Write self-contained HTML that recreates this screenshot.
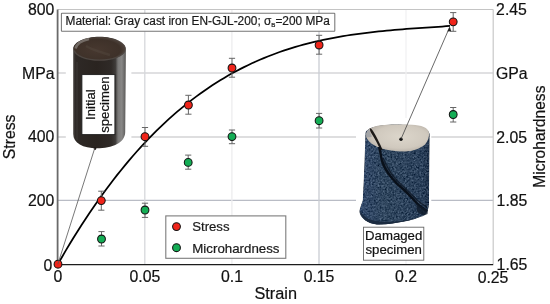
<!DOCTYPE html>
<html><head><meta charset="utf-8"><style>
html,body{margin:0;padding:0;background:#fff;}
svg{display:block;}
text{stroke:#111;stroke-width:0.2px;paint-order:stroke;}
</style></head><body>
<svg width="550" height="304" viewBox="0 0 550 304">
<rect x="0" y="0" width="550" height="304" fill="#fff"/>
<line x1="57.8" x2="493.2" y1="200.4" y2="200.4" stroke="#b9bcc5" stroke-width="1.2"/>
<line x1="57.8" x2="493.2" y1="137.0" y2="137.0" stroke="#d3d3d5" stroke-width="1.5"/>
<line x1="57.8" x2="493.2" y1="73.0" y2="73.0" stroke="#d6d6d8" stroke-width="1.3"/>
<line x1="144.8" x2="144.8" y1="9.5" y2="264.3" stroke="#d6d7db" stroke-width="1.3"/>
<line x1="231.9" x2="231.9" y1="9.5" y2="264.3" stroke="#ececee" stroke-width="1.3"/>
<line x1="319.0" x2="319.0" y1="9.5" y2="264.3" stroke="#c9ccd3" stroke-width="1.3"/>
<line x1="406.0" x2="406.0" y1="9.5" y2="264.3" stroke="#f0f0f2" stroke-width="1.2"/>
<rect x="65.8" y="32" width="65.6" height="118" fill="#fff"/>
<rect x="356" y="118" width="75.3" height="108" fill="#fff"/>
<line x1="57.8" x2="493.2" y1="9.5" y2="9.5" stroke="#c4c4c4" stroke-width="1.2"/>
<line x1="493.2" x2="493.2" y1="9.5" y2="264.3" stroke="#c8c8c8" stroke-width="1.2"/>
<line x1="57.599999999999994" x2="57.599999999999994" y1="9.5" y2="264.3" stroke="#6a6a6a" stroke-width="1.8"/>
<line x1="57.8" x2="493.2" y1="264.6" y2="264.6" stroke="#1c1c1c" stroke-width="1.3"/>
<rect x="61.4" y="13.2" width="273.4" height="18.1" rx="0.6" fill="#fff" stroke="#757575" stroke-width="1.05"/>
<text x="65.6" y="24.8" font-size="11.87" fill="#1a1a1a" font-family='"Liberation Sans", Arial, sans-serif'>Material: Gray cast iron EN-GJL-200; σ<tspan font-size="6.2" dy="1.7">B</tspan><tspan dy="-1.7">=200 MPa</tspan></text>
<rect x="165.8" y="215.9" width="120" height="42.4" fill="#fff" stroke="#7c7c7c" stroke-width="1.1"/>
<circle cx="176.5" cy="226.6" r="3.9" fill="#f0241a" stroke="#141414" stroke-width="1.05"/>
<circle cx="176.5" cy="247.7" r="3.9" fill="#14ad55" stroke="#141414" stroke-width="1.05"/>
<text x="192.2" y="231.2" font-size="13.2" fill="#1a1a1a" font-family='"Liberation Sans", Arial, sans-serif'>Stress</text>
<text x="192.3" y="252.9" font-size="13.3" fill="#1a1a1a" font-family='"Liberation Sans", Arial, sans-serif'>Microhardness</text>
<path d="M57.80,264.33 L61.76,257.44 L65.72,250.68 L69.68,244.06 L73.65,237.58 L77.61,231.24 L81.57,225.03 L85.53,218.95 L89.49,213.00 L93.45,207.18 L97.42,201.49 L101.38,195.92 L105.34,190.48 L109.30,185.16 L113.26,179.97 L117.22,174.89 L121.19,169.94 L125.15,165.10 L129.11,160.37 L133.07,155.76 L137.03,151.27 L140.99,146.88 L144.96,142.61 L148.92,138.44 L152.88,134.38 L156.84,130.43 L160.80,126.58 L164.76,122.83 L168.73,119.18 L172.69,115.64 L176.65,112.19 L180.61,108.84 L184.57,105.58 L188.53,102.41 L192.49,99.34 L196.46,96.36 L200.42,93.47 L204.38,90.67 L208.34,87.95 L212.30,85.31 L216.26,82.76 L220.23,80.29 L224.19,77.90 L228.15,75.59 L232.11,73.36 L236.07,71.20 L240.03,69.12 L244.00,67.11 L247.96,65.17 L251.92,63.30 L255.88,61.50 L259.84,59.77 L263.80,58.10 L267.77,56.49 L271.73,54.95 L275.69,53.47 L279.65,52.05 L283.61,50.68 L287.57,49.38 L291.54,48.12 L295.50,46.92 L299.46,45.78 L303.42,44.68 L307.38,43.63 L311.34,42.63 L315.31,41.67 L319.27,40.76 L323.23,39.90 L327.19,39.07 L331.15,38.28 L335.11,37.54 L339.07,36.83 L343.04,36.15 L347.00,35.51 L350.96,34.90 L354.92,34.33 L358.88,33.78 L362.84,33.26 L366.81,32.77 L370.77,32.30 L374.73,31.86 L378.69,31.44 L382.65,31.04 L386.61,30.66 L390.58,30.29 L394.54,29.95 L398.50,29.61 L402.46,29.29 L406.42,28.99 L410.38,28.69 L414.35,28.40 L418.31,28.12 L422.27,27.85 L426.23,27.58 L430.19,27.31 L434.15,27.04 L438.12,26.78 L442.08,26.51 L446.04,26.24 L450.00,25.96" fill="none" stroke="#000" stroke-width="1.75"/>
<path d="M101.5,231.6V246.0M98.4,231.6H104.6M98.4,246.0H104.6" stroke="#666" stroke-width="1" fill="none"/>
<path d="M145.0,203.2V217.4M141.9,203.2H148.1M141.9,217.4H148.1" stroke="#666" stroke-width="1" fill="none"/>
<path d="M188.2,155.1V169.2M185.1,155.1H191.3M185.1,169.2H191.3" stroke="#666" stroke-width="1" fill="none"/>
<path d="M232.0,130.0V143.7M228.9,130.0H235.1M228.9,143.7H235.1" stroke="#666" stroke-width="1" fill="none"/>
<path d="M319.1,113.4V128.0M316.0,113.4H322.2M316.0,128.0H322.2" stroke="#666" stroke-width="1" fill="none"/>
<path d="M453.2,107.5V122.0M450.1,107.5H456.3M450.1,122.0H456.3" stroke="#666" stroke-width="1" fill="none"/>
<path d="M101.3,191.2V210.2M98.2,191.2H104.4M98.2,210.2H104.4" stroke="#666" stroke-width="1" fill="none"/>
<path d="M145.0,127.5V146.3M141.9,127.5H148.1M141.9,146.3H148.1" stroke="#666" stroke-width="1" fill="none"/>
<path d="M188.4,95.3V114.2M185.3,95.3H191.5M185.3,114.2H191.5" stroke="#666" stroke-width="1" fill="none"/>
<path d="M232.0,58.3V77.2M228.9,58.3H235.1M228.9,77.2H235.1" stroke="#666" stroke-width="1" fill="none"/>
<path d="M319.1,35.3V54.2M316.0,35.3H322.2M316.0,54.2H322.2" stroke="#666" stroke-width="1" fill="none"/>
<path d="M453.2,12.6V31.3M450.1,12.6H456.3M450.1,31.3H456.3" stroke="#666" stroke-width="1" fill="none"/>
<circle cx="101.5" cy="239.0" r="3.9" fill="#14ad55" stroke="#141414" stroke-width="1.05"/>
<circle cx="145.0" cy="210.0" r="3.9" fill="#14ad55" stroke="#141414" stroke-width="1.05"/>
<circle cx="188.2" cy="162.4" r="3.9" fill="#14ad55" stroke="#141414" stroke-width="1.05"/>
<circle cx="232.0" cy="136.6" r="3.9" fill="#14ad55" stroke="#141414" stroke-width="1.05"/>
<circle cx="319.1" cy="120.7" r="3.9" fill="#14ad55" stroke="#141414" stroke-width="1.05"/>
<circle cx="453.2" cy="114.5" r="3.9" fill="#14ad55" stroke="#141414" stroke-width="1.05"/>
<circle cx="101.3" cy="200.6" r="3.9" fill="#f0241a" stroke="#141414" stroke-width="1.05"/>
<circle cx="145.0" cy="136.7" r="3.9" fill="#f0241a" stroke="#141414" stroke-width="1.05"/>
<circle cx="188.4" cy="105.0" r="3.9" fill="#f0241a" stroke="#141414" stroke-width="1.05"/>
<circle cx="232.0" cy="68.0" r="3.9" fill="#f0241a" stroke="#141414" stroke-width="1.05"/>
<circle cx="319.1" cy="45.0" r="3.9" fill="#f0241a" stroke="#141414" stroke-width="1.05"/>
<circle cx="453.2" cy="21.8" r="3.9" fill="#f0241a" stroke="#141414" stroke-width="1.05"/>
<circle cx="58.0" cy="264.2" r="3.9" fill="#f0241a" stroke="#141414" stroke-width="1.05"/>
<defs>
<linearGradient id="cyl" x1="73" x2="126" y1="0" y2="0" gradientUnits="userSpaceOnUse">
 <stop offset="0" stop-color="#4a4643"/><stop offset="0.05" stop-color="#2e2926"/>
 <stop offset="0.45" stop-color="#2a2420"/><stop offset="0.72" stop-color="#2f2a27"/>
 <stop offset="0.8" stop-color="#3e3b39"/><stop offset="0.85" stop-color="#7a7978"/><stop offset="0.92" stop-color="#888786"/><stop offset="0.97" stop-color="#6a6968"/><stop offset="1" stop-color="#55524f"/>
</linearGradient>
<radialGradient id="cyltop" cx="0.45" cy="0.55" r="0.6">
 <stop offset="0" stop-color="#47382f"/><stop offset="0.75" stop-color="#3e3129"/><stop offset="1" stop-color="#564c46"/>
</radialGradient>
<linearGradient id="dmg" x1="0" x2="1" y1="0" y2="0">
 <stop offset="0" stop-color="#33496a"/><stop offset="0.35" stop-color="#31475f"/><stop offset="0.9" stop-color="#2c415b"/><stop offset="1" stop-color="#1f3149"/>
</linearGradient>
<radialGradient id="disc" cx="0.55" cy="0.45" r="0.6">
 <stop offset="0" stop-color="#dcd6cb"/><stop offset="0.7" stop-color="#d0c9be"/><stop offset="1" stop-color="#b5aea5"/>
</radialGradient>
<filter id="noise" x="0" y="0" width="1" height="1" color-interpolation-filters="sRGB">
 <feTurbulence type="fractalNoise" baseFrequency="0.55" numOctaves="3" seed="7" result="n"/>
 <feColorMatrix in="n" type="matrix" values="0.33 0.33 0.33 0 0  0.33 0.33 0.33 0 0  0.33 0.33 0.33 0 0  0 0 0 0 1" result="g"/>
 <feComposite in="SourceGraphic" in2="g" operator="arithmetic" k1="0" k2="1" k3="0.75" k4="-0.375" result="c"/>
 <feComposite in="c" in2="SourceGraphic" operator="in"/>
</filter>
</defs>
<path d="M73.2,48.8 C73.2,42.2 85,36.7 99.5,36.7 C114,36.7 125.9,42.2 125.9,48.8 L125.2,132 C125.2,143 112,148.3 97,148.3 C83,148.3 73.2,143 73.2,134 Z" fill="url(#cyl)"/>
<path d="M73.6,48.8 C73.6,42.3 85.2,37 99.5,37 C113.8,37 125.5,42.3 125.5,48.8 C125.5,55.3 114,60.2 99.5,60.2 C85,60.2 73.6,55.3 73.6,48.8 Z" fill="url(#cyltop)"/>
<path d="M75.6,48.5 C76.5,44 81,40.6 89,38.9" fill="none" stroke="#8f8a85" stroke-width="2.6" opacity="0.65"/>
<path d="M74.2,50.5 C76,56 86,60 99.5,60.2 C113,60 123,56 125,50.5" fill="none" stroke="#4d4641" stroke-width="1.3"/>
<path d="M86,46 C92,50 100,52 110,55" fill="none" stroke="#5e524a" stroke-width="2.5" opacity="0.3"/>
<path d="M77,62 L77,140" stroke="#3f3b38" stroke-width="1.5" opacity="0.6"/>
<circle cx="95" cy="148.6" r="1.3" fill="#1a1512"/>
<rect x="81.9" y="74.6" width="33" height="60" fill="#fff" stroke="#1e1e1e" stroke-width="0.9"/>
<text transform="translate(94.6,104.6) rotate(-90)" text-anchor="middle" font-size="13.2" fill="#111" font-family='"Liberation Sans", Arial, sans-serif'>Initial</text>
<text transform="translate(109.0,104.6) rotate(-90)" text-anchor="middle" font-size="13.2" fill="#111" font-family='"Liberation Sans", Arial, sans-serif'>specimen</text>
<path d="M365.5,133 C367,127 382,124.6 397,124.6 C413,124.8 428.5,127 429.6,134 L429,200 C429.5,206 428,211 425.5,214.5 C420,218 411,220 403,221.8 C394,223.5 385,224.8 377,224.4 C368,223.8 361.5,219 359.6,213 C359,209 361.5,205 362.8,200 L364.2,170 Z" fill="url(#dmg)" filter="url(#noise)"/>
<path d="M359.8,210 C360.5,218 367,223.5 377,224.4 C386,224.8 395,223.3 404,221.6 C412,220 420,218 425.5,214.5 C423,217 415,219 404,220.5 C392,222 380,222.5 372,220 C365,218 362,214 359.8,210 Z" fill="#1b2b40"/>
<path d="M366.3,133.5 C367,128 375,125.6 384,125 C393,124.5 403,124.4 412,124.8 C421,125.3 428.5,127.5 429,133 C429.3,137 428,141 425,144.5 C420,148.5 413,151.3 405,151.6 C396,151.8 387,150.2 380,148 C373,145.5 368,141.5 366.3,137 Z" fill="url(#disc)"/>
<path d="M369.8,128.3 C371,128.2 372,129.5 373,131 C374.5,133.5 376,136 377.5,139 C379,142 380.3,144.5 381.3,147 L382.8,150 L380.6,150.3 C379.3,147.3 377.8,144.5 376.2,141.5 C374.6,138.6 373,136 371.5,133.5 C370.5,131.8 369.6,130 369.8,128.3 Z" fill="#1d1a18"/>
<path d="M366.3,135 C367,131 368,129.5 369.5,128.5 C369.5,131.5 370.5,134 372,136.5 C370,137.5 368,137.5 366.6,137.2 Z" fill="#a3a4a6"/>
<path d="M379,147 C380.3,151 381,156 382,161 C384,167 387,172 391,177 C395,182 399,186 403,189 C407,192.5 410,196 413,199 C416,202.5 419,205.5 421,207 C423,208.5 425,210 427,211" fill="none" stroke="#09101a" stroke-width="2.4"/>
<path d="M383,158 C386,165 389,171 394,177 C398,182 402,185 406,189 C410,193 413,196 417,200 C420,203 423,205 427,207" fill="none" stroke="#0e1826" stroke-width="1.6" opacity="0.8"/>
<path d="M416,203 C420,206 424,208 428,210 L427.5,214 C424,216 420,215 417,211 Z" fill="#101b2a" opacity="0.8"/>
<circle cx="401" cy="139.2" r="1.7" fill="#111"/>
<rect x="363.5" y="227.2" width="60.3" height="33" fill="#fff" stroke="#666" stroke-width="0.9"/>
<text x="393.7" y="239.8" text-anchor="middle" font-size="13.2" fill="#111" font-family='"Liberation Sans", Arial, sans-serif'>Damaged</text>
<text x="393.7" y="254.3" text-anchor="middle" font-size="13.2" fill="#111" font-family='"Liberation Sans", Arial, sans-serif'>specimen</text>
<line x1="57.8" y1="264.3" x2="94.8" y2="148" stroke="#555" stroke-width="0.8"/>
<line x1="401" y1="139" x2="449.5" y2="27.5" stroke="#444" stroke-width="0.8"/>
<path d="M449.8,26.5 L447.3,31.5 L451.2,31.2 Z" fill="#222"/>
<text x="54.4" y="15.1" text-anchor="end" font-size="15.8" fill="#111" font-family='"Liberation Sans", Arial, sans-serif'>800</text>
<text x="54.5" y="78.6" text-anchor="end" font-size="15.8" fill="#111" font-family='"Liberation Sans", Arial, sans-serif'>MPa</text>
<text x="54.4" y="142.4" text-anchor="end" font-size="15.8" fill="#111" font-family='"Liberation Sans", Arial, sans-serif'>400</text>
<text x="54.4" y="206.1" text-anchor="end" font-size="15.8" fill="#111" font-family='"Liberation Sans", Arial, sans-serif'>200</text>
<text x="52.2" y="270.5" text-anchor="end" font-size="15.8" fill="#111" font-family='"Liberation Sans", Arial, sans-serif'>0</text>
<text x="496.1" y="15.1" text-anchor="start" font-size="15.8" fill="#111" font-family='"Liberation Sans", Arial, sans-serif'>2.45</text>
<text x="495.9" y="78.6" text-anchor="start" font-size="15.8" fill="#111" font-family='"Liberation Sans", Arial, sans-serif'>GPa</text>
<text x="496.3" y="142.6" text-anchor="start" font-size="15.8" fill="#111" font-family='"Liberation Sans", Arial, sans-serif'>2.05</text>
<text x="496.6" y="206.4" text-anchor="start" font-size="15.8" fill="#111" font-family='"Liberation Sans", Arial, sans-serif'>1.85</text>
<text x="496.6" y="270.3" text-anchor="start" font-size="15.8" fill="#111" font-family='"Liberation Sans", Arial, sans-serif'>1.65</text>
<text x="57.8" y="281.6" text-anchor="middle" font-size="15.8" fill="#111" font-family='"Liberation Sans", Arial, sans-serif'>0</text>
<text x="144.9" y="281.6" text-anchor="middle" font-size="15.8" fill="#111" font-family='"Liberation Sans", Arial, sans-serif'>0.05</text>
<text x="232.0" y="281.6" text-anchor="middle" font-size="15.8" fill="#111" font-family='"Liberation Sans", Arial, sans-serif'>0.1</text>
<text x="319.0" y="281.6" text-anchor="middle" font-size="15.8" fill="#111" font-family='"Liberation Sans", Arial, sans-serif'>0.15</text>
<text x="406.1" y="281.6" text-anchor="middle" font-size="15.8" fill="#111" font-family='"Liberation Sans", Arial, sans-serif'>0.2</text>
<text x="493.0" y="282.7" text-anchor="middle" font-size="15.8" fill="#111" font-family='"Liberation Sans", Arial, sans-serif'>0.25</text>
<text x="275.7" y="299.3" text-anchor="middle" font-size="16.3" fill="#111" font-family='"Liberation Sans", Arial, sans-serif'>Strain</text>
<text transform="translate(15.1,136.9) rotate(-90)" text-anchor="middle" font-size="15.8" fill="#111" font-family='"Liberation Sans", Arial, sans-serif'>Stress</text>
<text transform="translate(545.3,136.7) rotate(-90)" text-anchor="middle" font-size="15.6" fill="#111" font-family='"Liberation Sans", Arial, sans-serif'>Microhardness</text>
</svg>
</body></html>
